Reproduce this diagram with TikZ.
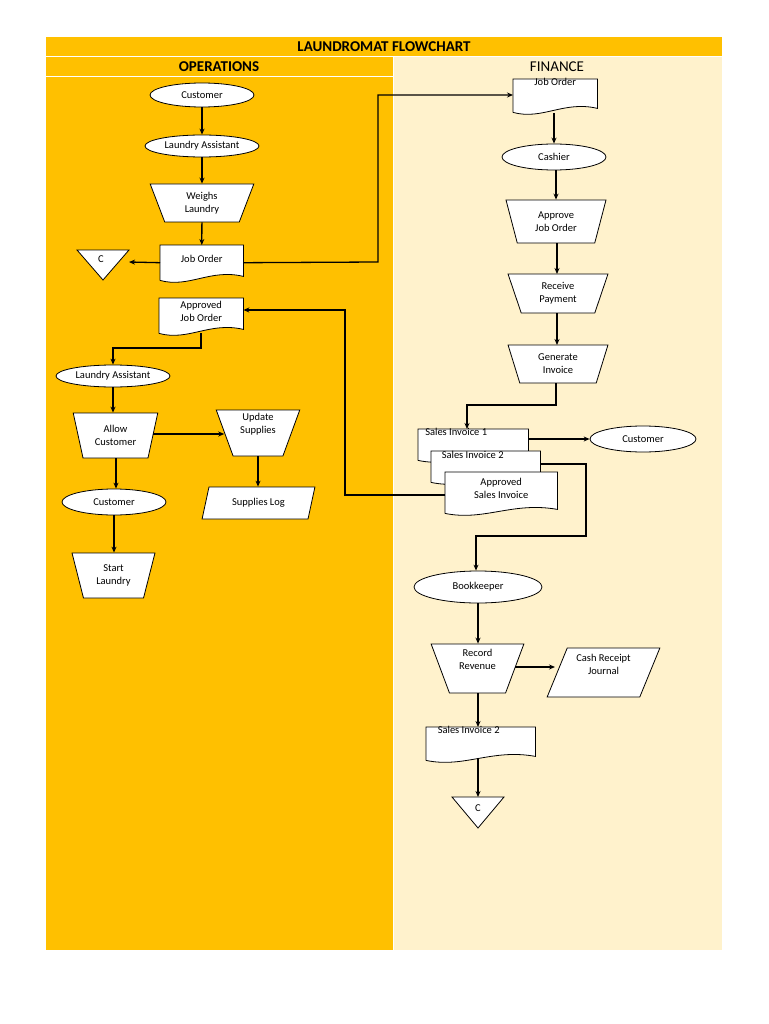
\documentclass[tikz,border=0pt]{standalone}
\usepackage{fontspec}
\setmainfont{Carlito}
\usetikzlibrary{shapes.geometric,arrows.meta}
\definecolor{org}{HTML}{FFC000}
\definecolor{lgt}{HTML}{FFF2CC}
\newcommand\docnode[7]{%
\node[box, minimum width=#4pt, minimum height=#5pt, anchor=north west] (#1) at (#2,#3) {};
\draw[shp] (#1.south west) -- (#1.north west) -- (#1.north east) -- ([yshift=4pt]#1.south east)
 .. controls ([xshift={-0.4*#4*1pt},yshift=12pt]#1.south east) and ([xshift={0.35*#4*1pt},yshift=-8pt]#1.south west) .. (#1.south west);
\node (#1t) at ([xshift=#6pt, yshift=4pt]#1.center) {#7};}
\begin{document}
\begin{tikzpicture}[x=1pt,y=-1pt,
 every node/.style={font=\fontsize{10.5}{13}\selectfont, align=center, inner sep=0pt},
 shp/.style={draw=black, fill=white, line width=0.8pt},
 box/.style={draw=none, inner sep=0pt},
 ell/.style={ellipse, shp, minimum width=#1pt},
 trap/.style={trapezium, shp, trapezium left angle=73, trapezium right angle=73, shape border rotate=180, trapezium stretches=true},
 para/.style={trapezium, shp, trapezium left angle=68, trapezium right angle=112, trapezium stretches=true},
 arr/.style={line width=1.3pt, -{Stealth[length=6pt,width=5pt]}}]
\useasboundingbox (0,0) rectangle (768,1024);
\fill[white] (0,0) rectangle (768,1024);
\fill[org] (46,37) rectangle (722,950);
\fill[lgt] (393,57) rectangle (722,950);
\draw[white, line width=1pt] (46,57) -- (722,57) (46,77) -- (393,77) (393,57) -- (393,950);
\node[font=\fontsize{15}{17}\selectfont\bfseries] (title) at (384,47) {LAUNDROMAT FLOWCHART};
\node[font=\fontsize{15}{17}\selectfont\bfseries] (ops) at (219,67) {OPERATIONS};
\node[font=\fontsize{15}{17}\selectfont] (fin) at (557,67) {FINANCE};
% Operations
\node[ell=104, minimum height=24pt] (cust1) at (202,95) {Customer};
\node[ell=114, minimum height=22pt] (la1) at (202,146) {Laundry Assistant};
\node[trap, minimum width=104pt, minimum height=38pt] (weigh) at (202,203) {Weighs\\Laundry};
\docnode{jo1}{160}{245}{83}{35}{0}{Job Order}
\draw[shp] (77,250) -- (129,250) -- (103,280) -- cycle;
\node (c1) at (101,259) {C};
\docnode{ajo}{159}{298}{84}{35}{0}{Approved\\Job Order}
\node[ell=114, minimum height=22pt] (la2) at (113,376) {Laundry Assistant};
\node[trap, minimum width=85pt, minimum height=45pt] (allow) at (115.5,435.5) {Allow\\Customer};
\node[trap, minimum width=84pt, minimum height=46pt] (upd) at (258,433) {Update\\Supplies\\[6pt]};
\node[para, minimum width=113pt, minimum height=32pt] (slog) at (258.5,503) {Supplies Log};
\node[ell=104, minimum height=26pt] (cust2) at (114,502) {Customer};
\node[trap, minimum width=83pt, minimum height=45pt] (start) at (113.5,575.5) {Start\\Laundry};
% Finance
\docnode{jo2}{513}{79}{84}{33}{0}{Job Order\\[6pt]}
\node[ell=104, minimum height=26pt] (cash) at (554,157) {Cashier};
\node[trap, minimum width=100pt, minimum height=43pt] (appr) at (556,221.5) {Approve\\Job Order};
\node[trap, minimum width=100pt, minimum height=39pt] (recv) at (558,293.5) {Receive\\Payment};
\node[trap, minimum width=100pt, minimum height=38pt] (gen) at (558,364) {Generate\\Invoice};
\docnode{si1}{418}{429}{110}{31}{-17}{Sales Invoice 1\\[4pt]}
\docnode{si2}{431}{451}{109}{31}{-13}{Sales Invoice 2\\[2pt]}
\docnode{asi}{445}{472}{112}{41}{0}{Approved\\Sales Invoice}
\node[ell=106, minimum height=26pt] (cust3) at (643,439) {Customer};
\node[ell=128, minimum height=32pt] (book) at (478,587) {Bookkeeper};
\node[trap, minimum width=93pt, minimum height=49pt] (rec) at (477.5,668.5) {Record\\Revenue\\[6pt]};
\node[para, minimum width=113pt, minimum height=49pt] (crj) at (603.5,672.5) {Cash Receipt\\Journal\\[4pt]};
\docnode{si3}{426}{727}{109}{33}{-12}{Sales Invoice 2\\[6pt]}
\draw[shp] (452,797) -- (504,797) -- (478,828) -- cycle;
\node (c2) at (478,808) {C};
% connectors
\draw[arr] (cust1) -- (la1);
\draw[arr] (la1) -- (weigh);
\draw[arr] (weigh) -- (jo1);
\draw[arr] (jo1.west) -- (129,262);
\draw[arr] (jo1.east) -- (378,262) -- (378,95) -- (jo2.west |- 0,95);
\draw[arr] (554,113) -- (cash.north -| 554,0);
\draw[arr] (cash.south -| 556,0) -- (appr.north -| 556,0);
\draw[arr] (appr.south -| 557,0) -- (557,274);
\draw[arr] (recv.south -| 557,0) -- (557,345);
\draw[arr] (gen.south -| 556,0) -- (556,405) -- (467,405) -- (467,429);
\draw[arr] (si1.east |- 0,439) -- (cust3);
\draw[arr] (si2.east |- 0,464) -- (586,464) -- (586,536) -- (476,536) -- (book.north -| 476,0);
\draw[arr] (asi.west |- 0,495) -- (345,495) -- (345,310) -- (ajo.east |- 0,310);
\draw[arr] (ajo.south -| 201,0) -- (201,348) -- (113,348) -- (la2.north -| 113,0);
\draw[arr] (la2) -- (la2 |- allow.north);
\draw[arr] (allow.east |- 0,434) -- (upd.west |- 0,434);
\draw[arr] (upd.south -| 258,0) -- (slog.north -| 258,0);
\draw[arr] (116,458) -- (cust2.north -| 116,0);
\draw[arr] (cust2.south -| 114,0) -- (start.north -| 114,0);
\draw[arr] (book) -- (book |- rec.north);
\draw[arr] (rec.east |- 0,667) -- (555,667);
\draw[arr] (rec.south -| 478,0) -- (si3.north -| 478,0);
\draw[arr] (478,758) -- (478,797);
\end{tikzpicture}
\end{document}
